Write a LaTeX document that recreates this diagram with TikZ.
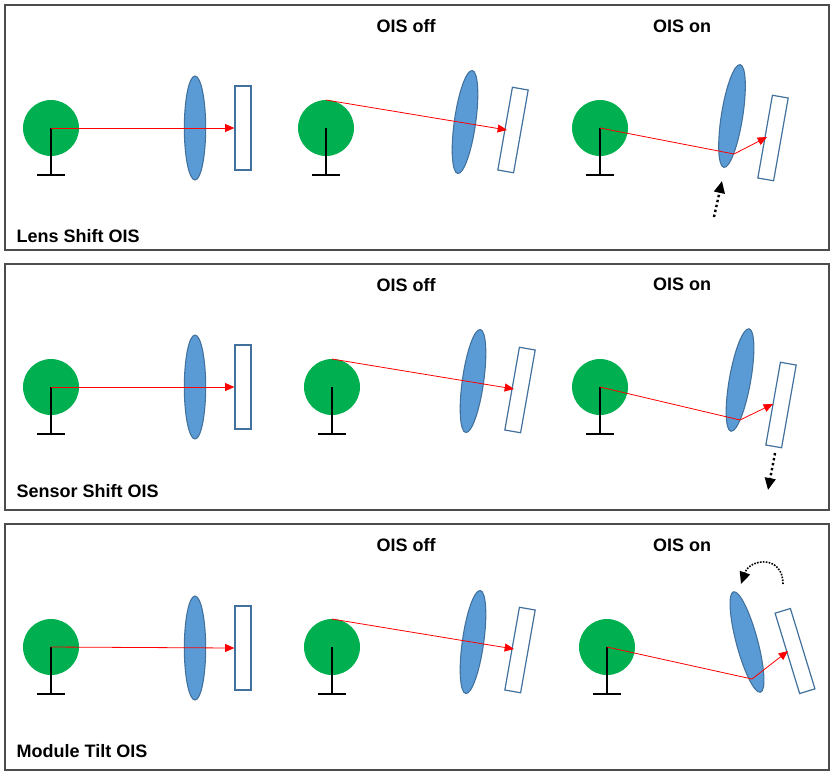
\documentclass[tikz,border=0pt]{standalone}
\usepackage{fontspec}
\setmainfont{Liberation Sans}
\usetikzlibrary{shapes.geometric,arrows.meta}
\definecolor{treegreen}{RGB}{0,176,80}
\definecolor{lensfill}{RGB}{91,155,213}
\definecolor{lensline}{RGB}{65,113,156}
\begin{document}
\begin{tikzpicture}[x=0.75pt,y=-0.75pt,
  panel/.style={draw=black!70,line width=1.2pt},
  tree/.style={circle,fill=treegreen,minimum size=42pt,inner sep=0},
  lens/.style={ellipse,fill=lensfill,draw=lensline,line width=0.8pt,minimum width=16pt,minimum height=78pt,inner sep=0},
  sensor/.style={rectangle,draw=lensline,line width=0.9pt,minimum width=12pt,minimum height=63pt,inner sep=0},
  ray/.style={red,line width=0.6pt},
  rayend/.style={ray,-{Triangle[length=7pt,width=6pt]}},
  stem/.style={black,line width=0.8pt},
  hdr/.style={font=\fontsize{13.5}{15}\selectfont\bfseries},
  lbl/.style={font=\fontsize{13.5}{15}\selectfont\bfseries,anchor=west},
  move/.style={black,line width=1.8pt,dotted,-{Triangle[length=9pt,width=8pt]}}]
\useasboundingbox (0,0) rectangle (834,776);
\fill[white] (0,0) rectangle (834,776);
% ---------- panels
\node[panel,minimum width=618pt,minimum height=183.5pt,inner sep=0] (p1) at (417,127.5) {};
\node[panel,minimum width=618pt,minimum height=184.5pt,inner sep=0] (p2) at (417,387) {};
\node[panel,minimum width=618pt,minimum height=184.5pt,inner sep=0] (p3) at (417,647) {};
% ---------- Panel 1
\node[hdr] (h1a) at (406,26) {OIS off};
\node[hdr] (h1b) at (682,26) {OIS on};
\node[lbl] (l1) at (12,236) {Lens Shift OIS};
\foreach \i/\x in {a/51,b/326,c/600}{
  \node[tree] (t1\i) at (\x,128) {};
  \coordinate (s1\i) at (\x,175);
  \coordinate (bl1\i) at (\x-14,175);
  \coordinate (br1\i) at (\x+14,175);
  \draw[stem] (t1\i.center) -- (s1\i);
  \draw[stem] (bl1\i) -- (br1\i);
}
\node[lens] (L1a) at (195,128) {};
\node[sensor] (S1a) at (243,128) {};
\draw[rayend] (t1a.center) -- (S1a.west);
\node[lens,rotate=-8] (L1b) at (465,122) {};
\node[sensor,rotate=-10] (S1b) at (513,130) {};
\coordinate (r1b) at (326,100);
\coordinate (e1b) at (507,130);
\draw[rayend] (r1b) -- (e1b);
\node[lens,rotate=-9] (L1c) at (732,116) {};
\node[sensor,rotate=-10] (S1c) at (773,138) {};
\coordinate (k1c) at (734,154);
\coordinate (e1c) at (767,137);
\draw[ray] (t1c.center) -- (k1c);
\draw[rayend] (k1c) -- (e1c);
\coordinate (m1s) at (714,217);
\coordinate (m1e) at (722,181);
\draw[move] (m1s) -- (m1e);
% ---------- Panel 2
\node[hdr] (h2a) at (406,285) {OIS off};
\node[hdr] (h2b) at (682,284) {OIS on};
\node[lbl] (l2) at (12,491) {Sensor Shift OIS};
\foreach \i/\x in {a/51,b/332,c/600}{
  \node[tree] (t2\i) at (\x,387) {};
  \coordinate (s2\i) at (\x,434);
  \coordinate (bl2\i) at (\x-14,434);
  \coordinate (br2\i) at (\x+14,434);
  \draw[stem] (t2\i.center) -- (s2\i);
  \draw[stem] (bl2\i) -- (br2\i);
}
\node[lens] (L2a) at (195,387) {};
\node[sensor] (S2a) at (243,387) {};
\draw[rayend] (t2a.center) -- (S2a.west);
\node[lens,rotate=-8] (L2b) at (473,381) {};
\node[sensor,rotate=-10] (S2b) at (520,390) {};
\coordinate (r2b) at (332,359);
\coordinate (e2b) at (514,389);
\draw[rayend] (r2b) -- (e2b);
\node[lens,rotate=-10] (L2c) at (740,380) {};
\node[sensor,rotate=-10] (S2c) at (781,405) {};
\coordinate (k2c) at (740,420);
\coordinate (e2c) at (773,404);
\draw[ray] (t2c.center) -- (k2c);
\draw[rayend] (k2c) -- (e2c);
\coordinate (m2s) at (775,453);
\coordinate (m2e) at (768,490);
\draw[move] (m2s) -- (m2e);
% ---------- Panel 3
\node[hdr] (h3a) at (406,545) {OIS off};
\node[hdr] (h3b) at (682,545) {OIS on};
\node[lbl] (l3) at (12,751) {Module Tilt OIS};
\foreach \i/\x in {a/51,b/332,c/607}{
  \node[tree] (t3\i) at (\x,647) {};
  \coordinate (s3\i) at (\x,694);
  \coordinate (bl3\i) at (\x-14,694);
  \coordinate (br3\i) at (\x+14,694);
  \draw[stem] (t3\i.center) -- (s3\i);
  \draw[stem] (bl3\i) -- (br3\i);
}
\node[lens] (L3a) at (195,648) {};
\node[sensor] (S3a) at (243,648) {};
\draw[rayend] (t3a.center) -- (S3a.west);
\node[lens,rotate=-8] (L3b) at (473,642) {};
\node[sensor,rotate=-10] (S3b) at (520,650) {};
\coordinate (r3b) at (332,619);
\coordinate (e3b) at (514,649);
\draw[rayend] (r3b) -- (e3b);
\node[lens,rotate=15] (L3c) at (747,642) {};
\node[sensor,rotate=17] (S3c) at (795,651) {};
\coordinate (k3c) at (752,679);
\coordinate (e3c) at (788,651);
\draw[ray] (t3c.center) -- (k3c);
\draw[rayend] (k3c) -- (e3c);
\coordinate (m3s) at (783,584);
\coordinate (m3e) at (741,584);
\draw[black,line width=1.2pt,densely dotted,-{Triangle[length=9pt,width=8pt]}] (m3s) .. controls (783,555) and (750,558) .. (m3e);
\end{tikzpicture}
\end{document}
